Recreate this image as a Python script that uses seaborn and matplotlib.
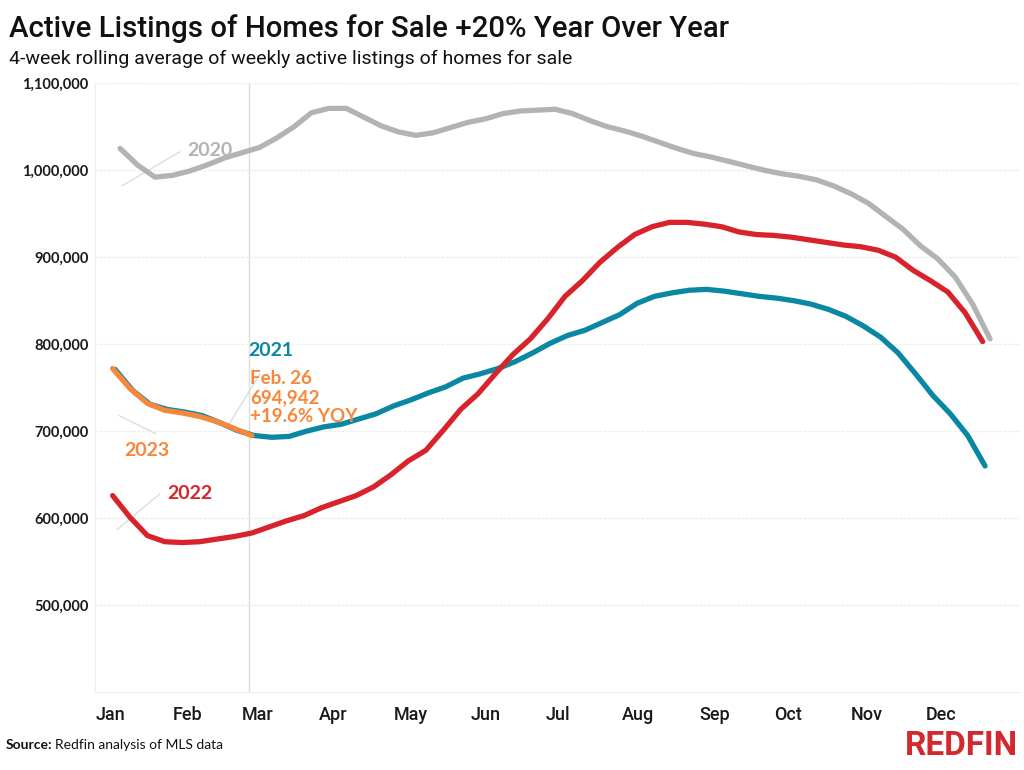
import numpy as np
import pandas as pd
import matplotlib
matplotlib.use("Agg")
import matplotlib.pyplot as plt
import seaborn as sns

# weekly 4-week rolling average of active listings
vals_2020 = [1025000, 1006000, 992000, 994000, 999000, 1006000, 1014000, 1020000, 1026000, 1037000,
             1050000, 1066000, 1071000, 1071000, 1061000, 1051000, 1044000, 1040000, 1043000, 1049000,
             1055000, 1059000, 1065000, 1068000, 1069000, 1070000, 1065000, 1057000, 1050000, 1045000,
             1039000, 1032000, 1025000, 1019000, 1015000, 1010000, 1005000, 1000000, 996000, 993000,
             989000, 982000, 973000, 962000, 947000, 932000, 913000, 898000, 877000, 846000, 806000]
vals_2021 = [771000, 747000, 731000, 725000, 722000, 718000, 710000, 701000, 695000, 693000,
             694000, 700000, 705000, 708000, 714000, 720000, 729000, 736000, 744000, 751000,
             761000, 766000, 772000, 780000, 790000, 801000, 810000, 816000, 825000, 834000,
             847000, 855000, 859000, 862000, 863000, 861000, 858000, 855000, 853000, 850000,
             846000, 840000, 832000, 821000, 808000, 790000, 766000, 741000, 720000, 695000, 660000]
vals_2022 = [626000, 601000, 580000, 573000, 572000, 573000, 576000, 579000, 583000, 590000,
             597000, 603000, 612000, 619000, 626000, 636000, 650000, 666000, 678000, 701000,
             725000, 743000, 766000, 788000, 806000, 829000, 855000, 873000, 894000, 911000,
             926000, 935000, 940000, 940000, 938000, 935000, 929000, 926000, 925000, 923000,
             920000, 917000, 914000, 912000, 908000, 900000, 885000, 873000, 860000, 836000, 803000]
vals_2023 = [772000, 749000, 732000, 724000, 721000, 717000, 711000, 703000, 694942]

# day of year of the first week in each series
start_day = {"2020": 10, "2021": 8, "2022": 7, "2023": 7}
colors = {"2020": "#b3b3b3", "2021": "#0a87a2", "2022": "#d8232c", "2023": "#f7873a"}

months = ["Jan", "Feb", "Mar", "Apr", "May", "Jun", "Jul", "Aug", "Sep", "Oct", "Nov", "Dec"]
month_start = [0, 31, 59, 90, 120, 151, 181, 212, 243, 273, 304, 334]

series = {"2020": vals_2020, "2021": vals_2021, "2022": vals_2022, "2023": vals_2023}
frames = []
for yr, v in series.items():
    frames.append(pd.DataFrame({"day": start_day[yr] + 7 * np.arange(len(v)),
                                "listings": v, "year": yr}))
df = pd.concat(frames, ignore_index=True)

sns.set_style("white")
plt.rcParams["font.family"] = ["Lato", "DejaVu Sans"]

fig = plt.figure(figsize=(10.24, 7.7), dpi=100)
ax = fig.add_axes([0.093, 0.101, 0.903, 0.791])

ax.axvline(62, color="#dddddd", lw=1, zorder=0)
for yr in ["2020", "2021", "2022", "2023"]:
    sns.lineplot(data=df[df.year == yr], x="day", y="listings", color=colors[yr],
                 lw=3.8, ax=ax, solid_capstyle="round", zorder=3)

ax.set_ylim(400000, 1100000)
ax.set_xlim(0.8, 372)
ax.set_yticks(np.arange(500000, 1100001, 100000))
ax.yaxis.set_major_formatter(matplotlib.ticker.FuncFormatter(lambda v, p: f"{int(v):,}"))
ax.grid(axis="y", color="#eeeeee", lw=1, ls=(0, (2, 1)))
ax.set_axisbelow(True)
ax.set_xticks(month_start)
ax.set_xticklabels(months, ha="left")
ax.tick_params(axis="x", length=0, pad=10, labelsize=13, labelcolor="#1a1a1a")
ax.tick_params(axis="y", length=0, pad=5, labelsize=10.5, labelcolor="#1a1a1a")
for t in ax.get_yticklabels() + ax.get_xticklabels():
    t.set_fontweight("bold")
for t in ax.get_xticklabels():
    t.set_family(["Roboto", "DejaVu Sans"])
    t.set_fontweight("medium")
for s in ["top", "right"]:
    ax.spines[s].set_visible(False)
ax.spines["left"].set_color("#eeeeee")
ax.spines["bottom"].set_color("#eeeeee")
ax.spines["bottom"].set_linestyle((0, (2, 1)))
ax.set_xlabel("")
ax.set_ylabel("")

# labels with leader lines
lead = dict(color="#dddddd", lw=1, zorder=1)
ax.plot([10.8, 34], [982000, 1021000], **lead)
ax.text(37, 1023000, "2020", color=colors["2020"], fontsize=14, fontweight="bold", va="center")
ax.text(61.4, 793000, "2021", color=colors["2021"], fontsize=14, fontweight="bold", va="center")
ax.plot([53.6, 66.3], [707000, 766000], **lead)
ax.text(62.2, 739000, "Feb. 26\n694,942\n+19.6% YOY", color=colors["2023"], fontsize=13.5,
        fontweight="bold", va="center", linespacing=1.15)
ax.plot([9.6, 24.5], [718000, 697000], **lead)
ax.text(11.6, 678000, "2023", color=colors["2023"], fontsize=14, fontweight="bold", va="center")
ax.plot([8.8, 26], [587000, 628000], **lead)
ax.text(29, 628000, "2022", color=colors["2022"], fontsize=14, fontweight="bold", va="center")

fig.text(0.009, 0.963, "Active Listings of Homes for Sale +20% Year Over Year",
         fontsize=21.2, family=["Roboto", "DejaVu Sans"], fontweight="medium", color="#111111", va="center")
fig.text(0.009, 0.924, "4-week rolling average of weekly active listings of homes for sale",
         fontsize=14, family=["Roboto", "DejaVu Sans"], color="#111111", va="center")

src = fig.text(0.006, 0.033, "Source:", fontsize=10, fontweight="bold", color="#111111", va="center")
fig.canvas.draw()
bb = src.get_window_extent()
fig.text(bb.x1 / fig.bbox.width + 0.002, 0.033, "Redfin analysis of MLS data", fontsize=10,
         color="#111111", va="center")
fig.text(0.994, 0.031, "REDFIN", fontsize=24, fontweight="bold", family=["Roboto", "DejaVu Sans"],
         color="#d3282e", ha="right", va="center")

fig.savefig("out.png", dpi=100)
